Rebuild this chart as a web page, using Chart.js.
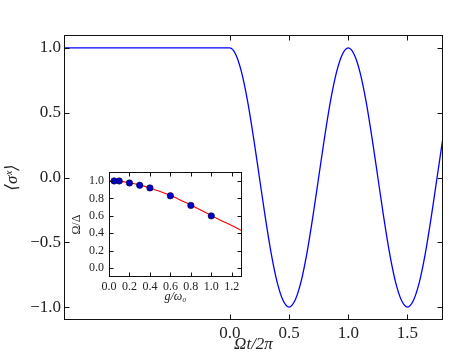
<!DOCTYPE html>
<html>
<head>
<meta charset="utf-8">
<script src="https://cdn.jsdelivr.net/npm/chart.js@4.4.1/dist/chart.umd.min.js"></script>
<style>
html,body{margin:0;padding:0;background:#fff;}
#wrap{position:relative;width:474px;height:355px;}
#main{position:absolute;left:0;top:0;}
#inset{position:absolute;left:70px;top:160px;}
</style>
</head>
<body>
<div id="wrap">
<canvas id="main" width="474" height="355"></canvas>
<canvas id="inset" width="180" height="150"></canvas>
</div>
<script>
// ---- main panel data: <sigma^x> versus Omega t / 2 pi ----
const mainT = [-1.4, 0.0, 0.05, 0.10, 0.15, 0.20, 0.25, 0.30, 0.35, 0.40, 0.45, 0.50,
  0.55, 0.60, 0.65, 0.70, 0.75, 0.80, 0.85, 0.90, 0.95, 1.00,
  1.05, 1.10, 1.15, 1.20, 1.25, 1.30, 1.35, 1.40, 1.45, 1.50,
  1.55, 1.60, 1.65, 1.70, 1.75, 1.80];
const mainSigma = [1.0, 1.0, 0.95, 0.81, 0.59, 0.31, 0.0, -0.31, -0.59, -0.81, -0.95, -1.0,
  -0.95, -0.81, -0.59, -0.31, 0.0, 0.31, 0.59, 0.81, 0.95, 1.0,
  0.95, 0.81, 0.59, 0.31, 0.0, -0.31, -0.59, -0.81, -0.95, -1.0,
  -0.95, -0.81, -0.59, -0.31, 0.0, 0.31];
const mainXTicks = [0.0, 0.5, 1.0, 1.5];
const mainYTicks = [-1.0, -0.5, 0.0, 0.5, 1.0];

// ---- inset data: Omega/Delta versus g/omega_0 ----
const fitG = [0.0, 0.1, 0.2, 0.3, 0.4, 0.5, 0.6, 0.7, 0.8, 0.9, 1.0, 1.1, 1.2, 1.3];
const fitRatio = [1.0, 0.995, 0.98, 0.955, 0.92, 0.88, 0.835, 0.78, 0.725, 0.665, 0.605, 0.545, 0.49, 0.43];
const dotG = [0.05, 0.1, 0.2, 0.3, 0.4, 0.6, 0.8, 1.0];
const dotRatio = [1.0, 1.0, 0.977, 0.95, 0.92, 0.83, 0.72, 0.60];
const insetXTicks = [0.0, 0.2, 0.4, 0.6, 0.8, 1.0, 1.2];
const insetYTicks = [0.0, 0.2, 0.4, 0.6, 0.8, 1.0];

const SERIF = "'Liberation Serif', 'DejaVu Serif', serif";
function fmt(v){ return (v < 0 ? '\u2212' : '') + Math.abs(v).toFixed(1); }
function pts(xs, ys){ return xs.map((x, i) => ({x: x, y: ys[i]})); }

function framePlugin(tickLen){
  return {
    id: 'frame',
    beforeDatasetsDraw(chart){
      const {ctx, chartArea: a} = chart;
      ctx.save();
      ctx.fillStyle = '#fff';
      ctx.fillRect(a.left, a.top, a.right - a.left, a.bottom - a.top);
      ctx.restore();
    },
    afterDraw(chart){
      const {ctx, chartArea: a} = chart;
      const xs = chart.scales.x, ys = chart.scales.y;
      ctx.save();
      ctx.strokeStyle = '#111';
      ctx.lineWidth = 1;
      const L = Math.round(a.left) + 0.5, R = Math.round(a.right) - 0.5;
      const T = Math.round(a.top) + 0.5, B = Math.round(a.bottom) - 0.5;
      ctx.strokeRect(L, T, R - L, B - T);
      ctx.beginPath();
      xs.ticks.forEach(t => {
        const p = Math.round(xs.getPixelForValue(t.value)) + 0.5;
        ctx.moveTo(p, B); ctx.lineTo(p, B - tickLen);
        ctx.moveTo(p, T); ctx.lineTo(p, T + tickLen);
      });
      ys.ticks.forEach(t => {
        const p = Math.round(ys.getPixelForValue(t.value)) + 0.5;
        ctx.moveTo(L, p); ctx.lineTo(L + tickLen, p);
        ctx.moveTo(R, p); ctx.lineTo(R - tickLen, p);
      });
      ctx.stroke();
      ctx.restore();
    }
  };
}

new Chart(document.getElementById('main'), {
  type: 'line',
  data: {
    datasets: [{
      data: pts(mainT, mainSigma),
      borderColor: '#0000ff',
      borderWidth: 1.3,
      pointRadius: 0,
      fill: false,
      cubicInterpolationMode: 'monotone'
    }]
  },
  options: {
    responsive: false, animation: false, events: [],
    layout: {padding: {left: 0, right: 31, top: 35, bottom: 0}},
    plugins: {legend: {display: false}, tooltip: {enabled: false}},
    scales: {
      x: {
        type: 'linear', min: -1.4, max: 1.8,
        afterBuildTicks: s => { s.ticks = mainXTicks.map(v => ({value: v})); },
        afterFit: s => { s.height = 35; },
        grid: {display: false, drawTicks: false}, border: {display: false},
        ticks: {callback: v => fmt(v), color: '#222', font: {family: SERIF, size: 17}, padding: 3, maxRotation: 0},
        title: {display: true, text: '\u03A9t/2\u03C0', color: '#222', font: {family: SERIF, size: 17, style: 'italic'}, padding: {top: 0, bottom: 0}}
      },
      y: {
        type: 'linear', min: -1.1, max: 1.1,
        afterBuildTicks: s => { s.ticks = mainYTicks.map(v => ({value: v})); },
        afterFit: s => { s.width = 64; },
        grid: {display: false, drawTicks: false}, border: {display: false},
        ticks: {callback: v => fmt(v), color: '#222', font: {family: SERIF, size: 17}, padding: 3},
        title: {display: true, text: '\u27E8\u03C3\u02E3\u27E9', color: '#222', font: {family: SERIF, size: 17, style: 'italic'}, padding: {top: 2, bottom: 0}}
      }
    }
  },
  plugins: [framePlugin(5)]
});

new Chart(document.getElementById('inset'), {
  type: 'line',
  data: {
    datasets: [{
      data: pts(fitG, fitRatio),
      borderColor: '#ff0000',
      borderWidth: 1.1,
      pointRadius: 0,
      fill: false,
      cubicInterpolationMode: 'monotone',
      order: 2
    }, {
      data: pts(dotG, dotRatio),
      showLine: false,
      pointRadius: 3.2,
      pointBackgroundColor: '#0000c8',
      pointBorderColor: '#000033',
      pointBorderWidth: 0.6,
      order: 1
    }]
  },
  options: {
    responsive: false, animation: false, events: [],
    layout: {padding: {left: 0, right: 8, top: 11, bottom: 0}},
    plugins: {legend: {display: false}, tooltip: {enabled: false}},
    scales: {
      x: {
        type: 'linear', min: 0, max: 1.3,
        afterBuildTicks: s => { s.ticks = insetXTicks.map(v => ({value: v})); },
        afterFit: s => { s.height = 33; },
        grid: {display: false, drawTicks: false}, border: {display: false},
        ticks: {callback: v => fmt(v), color: '#222', font: {family: SERIF, size: 12}, padding: 3, maxRotation: 0, autoSkip: false},
        title: {display: true, text: 'g/\u03C9\u2080', color: '#222', font: {family: SERIF, size: 12, style: 'italic'}, padding: {top: 0, bottom: 6}}
      },
      y: {
        type: 'linear', min: -0.1, max: 1.1,
        afterBuildTicks: s => { s.ticks = insetYTicks.map(v => ({value: v})); },
        afterFit: s => { s.width = 39; },
        grid: {display: false, drawTicks: false}, border: {display: false},
        ticks: {callback: v => fmt(v), color: '#222', font: {family: SERIF, size: 12}, padding: 5},
        title: {display: true, text: '\u03A9/\u0394', color: '#222', font: {family: SERIF, size: 12}, padding: {top: 0, bottom: 0}}
      }
    }
  },
  plugins: [framePlugin(4)]
});
</script>
</body>
</html>
